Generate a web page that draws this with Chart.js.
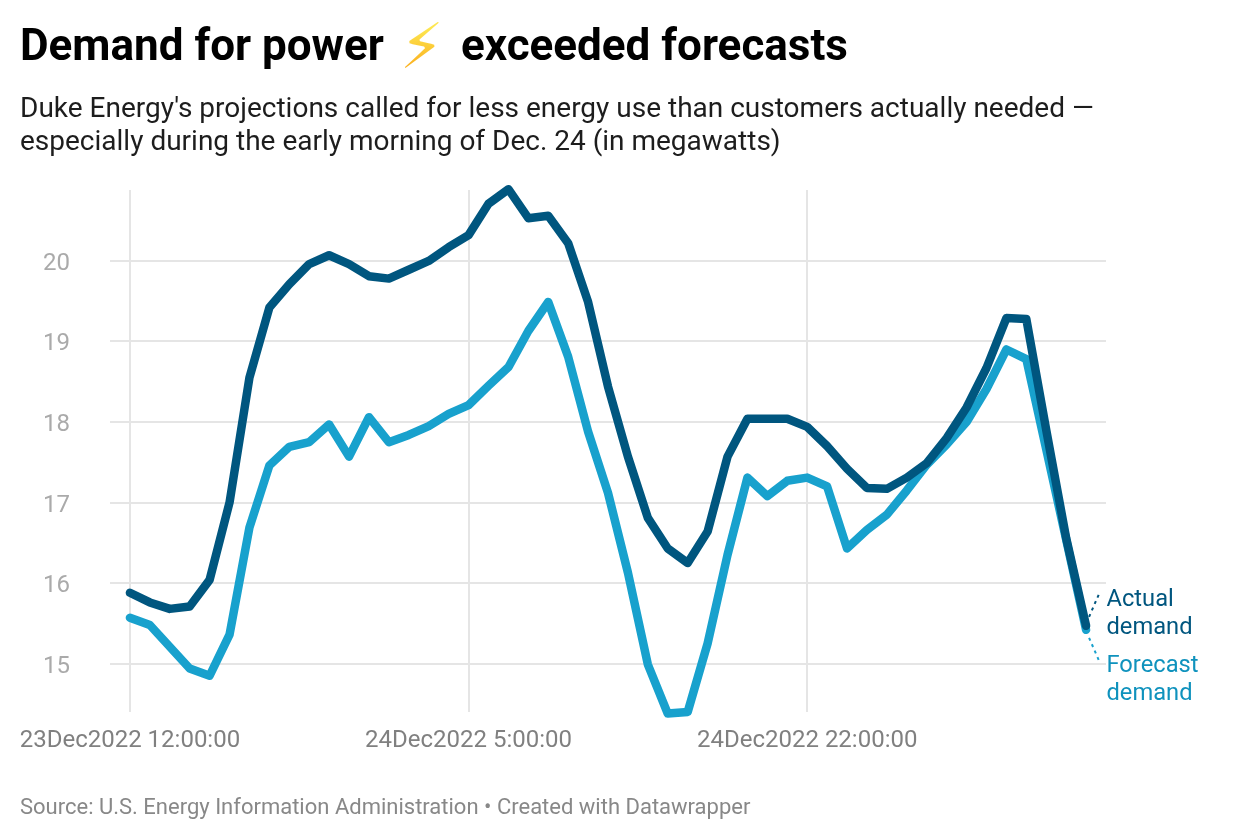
<!DOCTYPE html>
<html>
<head>
<meta charset="utf-8">
<title>Demand for power</title>
<script src="https://cdn.jsdelivr.net/npm/chart.js@4"></script>
<style>
  html, body { margin: 0; padding: 0; background: #fff; }
  body { width: 1240px; height: 840px; position: relative; overflow: hidden; font-family: Roboto, sans-serif; }
  canvas { position: absolute; left: 0; top: 0; }
  .txt { position: absolute; white-space: nowrap; }
  #title { left: 20px; top: 19px; font-size: 44px; line-height: 52px; font-weight: 700; color: #000; }
  #bolt { font-family: "DejaVu Sans"; font-weight: 400; font-size: 63px; line-height: 0; vertical-align: -8px; margin: 0 6px 0 5px;
          background: linear-gradient(180deg, #fde650 25%, #fbb321 75%); -webkit-background-clip: text; background-clip: text; color: transparent; }
  #subtitle { left: 20px; top: 91px; font-size: 28px; line-height: 33.4px; color: #1d1d1d; }
  #source { left: 20px; top: 794px; font-size: 22px; line-height: 26px; color: #888; }
  .end { left: 1106.5px; font-size: 23.7px; line-height: 28px; }
  #endActual { top: 584px; color: #00567f; }
  #endForecast { top: 650px; color: #0f92bd; }
</style>
</head>
<body>
<canvas id="demandChart" width="1240" height="840"></canvas>
<div class="txt" id="title">Demand for power <span id="bolt">⚡</span> exceeded forecasts</div>
<div class="txt" id="subtitle">Duke Energy's projections called for less energy use than customers actually needed —<br>especially during the early morning of Dec. 24 (in megawatts)</div>
<div class="txt end" id="endActual">Actual<br>demand</div>
<div class="txt end" id="endForecast">Forecast<br>demand</div>
<div class="txt" id="source">Source: U.S. Energy Information Administration • Created with Datawrapper</div>
<script>
// hours since 23 Dec 2022 12:00
const hours = [0,1,2,3,4,5,6,7,8,9,10,11,12,13,14,15,16,17,18,19,20,21,22,23,24,25,26,27,28,29,30,31,32,33,34,35,36,37,38,39,40,41,42,43,44,45,46,47,48];

const actualDemand = [15.88,15.76,15.68,15.71,16.04,17.0,18.55,19.42,19.71,19.96,20.07,19.96,19.81,19.78,19.89,20.0,20.17,20.32,20.71,20.89,20.53,20.56,20.22,19.49,18.44,17.57,16.81,16.43,16.25,16.64,17.57,18.04,18.04,18.04,17.94,17.70,17.42,17.18,17.17,17.31,17.49,17.80,18.18,18.67,19.29,19.28,17.90,16.56,15.47];

const forecastDemand = [15.57,15.48,15.21,14.94,14.85,15.36,16.69,17.46,17.69,17.75,17.97,17.57,18.06,17.75,17.84,17.95,18.10,18.21,18.45,18.68,19.13,19.49,18.81,17.88,17.12,16.13,14.99,14.38,14.40,15.25,16.35,17.31,17.08,17.27,17.31,17.20,16.43,16.66,16.85,17.15,17.47,17.72,18.0,18.41,18.90,18.78,17.66,16.54,15.42];

const xTickHours = [0, 17, 34];
const xTickLabels = ['23Dec2022 12:00:00', '24Dec2022 5:00:00', '24Dec2022 22:00:00'];
const yTicks = [15, 16, 17, 18, 19, 20];

const toPoints = values => values.map((v, i) => ({ x: hours[i], y: v }));

// dotted leader lines from the line ends to the labels
const leaders = {
    id: 'leaders',
    afterDatasetsDraw(chart) {
        const ctx = chart.ctx;
        const a = chart.getDatasetMeta(0).data[hours.length - 1];
        const f = chart.getDatasetMeta(1).data[hours.length - 1];
        ctx.save();
        ctx.lineWidth = 2;
        ctx.setLineDash([3, 4]);
        ctx.strokeStyle = '#00567f';
        ctx.beginPath();
        ctx.moveTo(a.x + 3, a.y - 9);
        ctx.lineTo(a.x + 13, a.y - 32);
        ctx.stroke();
        ctx.strokeStyle = '#18a1cd';
        ctx.beginPath();
        ctx.moveTo(f.x + 3, f.y + 8);
        ctx.lineTo(f.x + 13, f.y + 31);
        ctx.stroke();
        ctx.restore();
    }
};

new Chart(document.getElementById('demandChart').getContext('2d'), {
    type: 'line',
    plugins: [leaders],
    data: {
        datasets: [
            { label: 'Actual demand', data: toPoints(actualDemand), borderColor: '#00567f', borderWidth: 8.5, pointRadius: 0, borderCapStyle: 'round', borderJoinStyle: 'round', clip: false },
            { label: 'Forecast demand', data: toPoints(forecastDemand), borderColor: '#18a1cd', borderWidth: 8.5, pointRadius: 0, borderCapStyle: 'round', borderJoinStyle: 'round', clip: false }
        ]
    },
    options: {
        responsive: false,
        animation: false,
        layout: { padding: { top: 190, right: 134, left: 0, bottom: 0 } },
        plugins: { legend: { display: false }, tooltip: { enabled: false } },
        scales: {
            x: {
                type: 'linear',
                min: -1,
                max: 49,
                afterBuildTicks: axis => { axis.ticks = xTickHours.map(v => ({ value: v })); },
                afterFit: axis => { axis.height = 128; },
                grid: { color: '#e5e5e5', lineWidth: 2, drawTicks: false },
                border: { display: false },
                ticks: {
                    autoSkip: false,
                    maxRotation: 0,
                    padding: 15,
                    color: '#808080',
                    font: { family: 'Roboto', size: 24 },
                    callback: v => xTickLabels[xTickHours.indexOf(v)]
                }
            },
            y: {
                min: 14.4,
                max: 20.88,
                afterBuildTicks: axis => { axis.ticks = yTicks.map(v => ({ value: v })); },
                afterFit: axis => { axis.width = 110; },
                grid: { color: '#e5e5e5', lineWidth: 2, drawTicks: false },
                border: { display: false },
                ticks: {
                    padding: 40,
                    labelOffset: 3,
                    color: '#aaaaaa',
                    font: { family: 'Roboto', size: 24 }
                }
            }
        }
    }
});
</script>
</body>
</html>
